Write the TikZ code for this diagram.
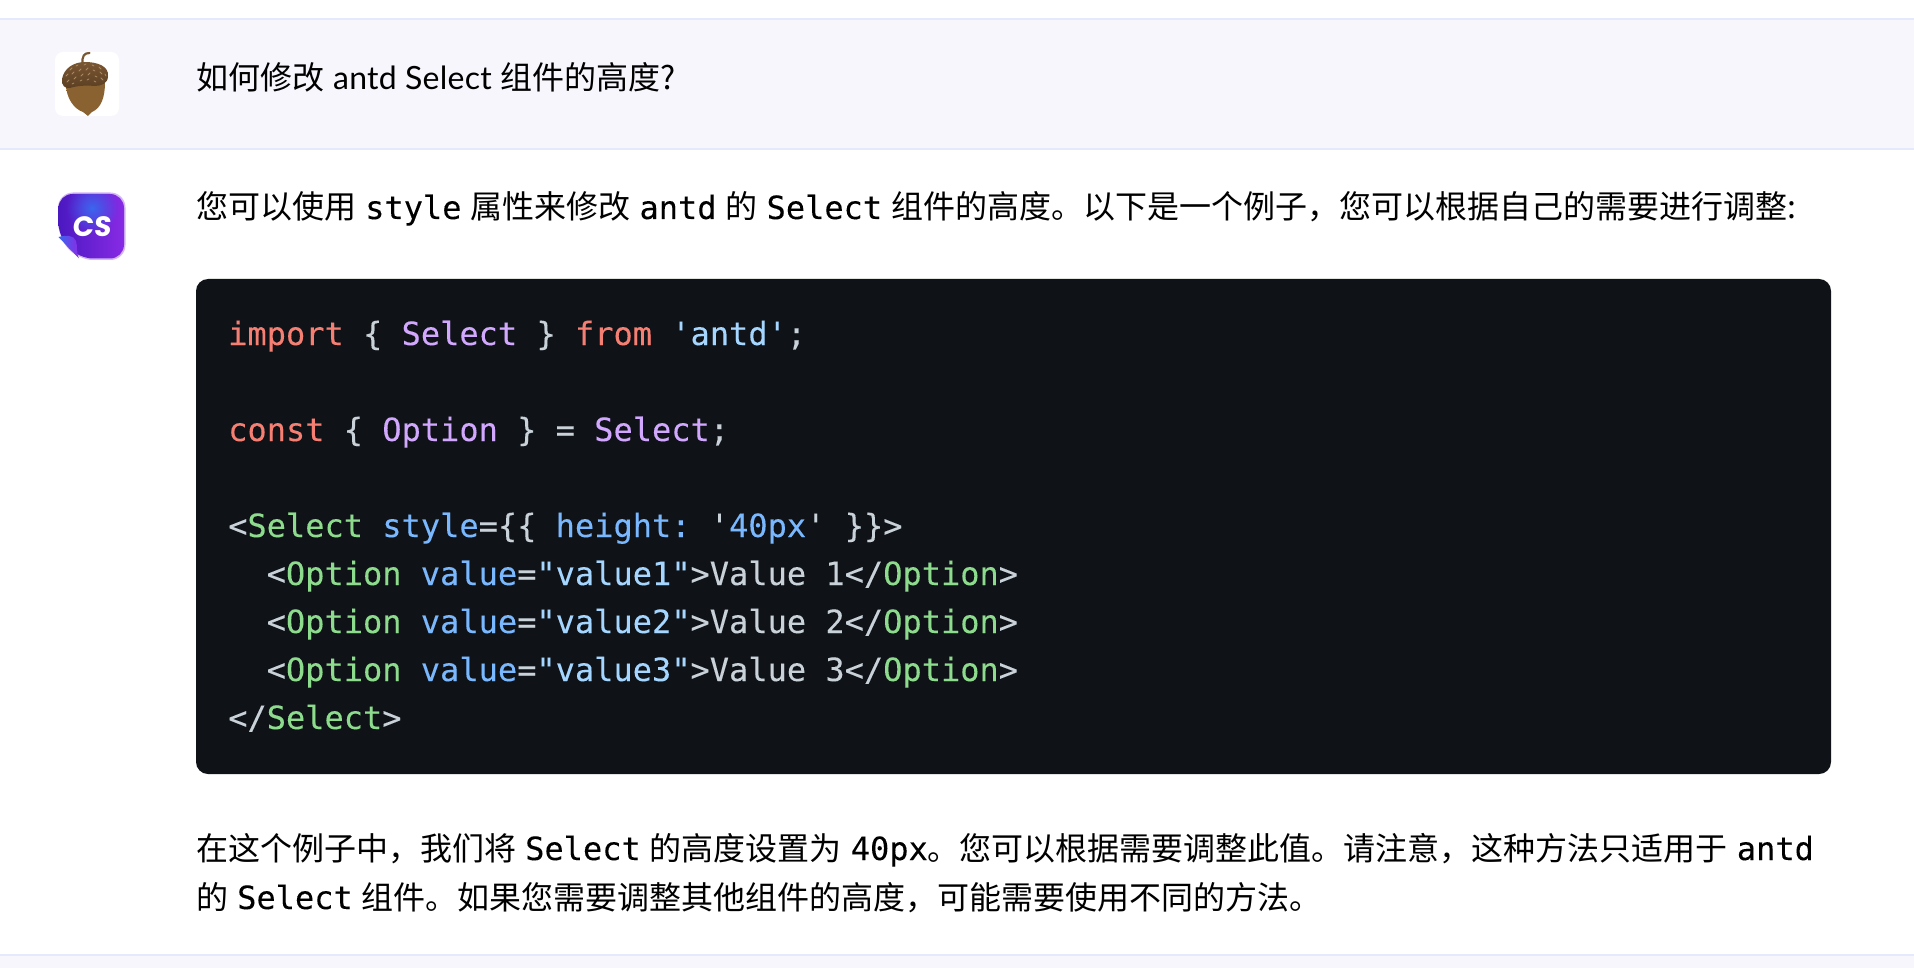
\documentclass[tikz,border=0pt]{standalone}
\usepackage{fontspec}
\usetikzlibrary{positioning,fadings}
\setmainfont{Noto Sans CJK SC}
\setmonofont[FakeBold=0.12]{DejaVu Sans Mono}
\newfontfamily\latinfont[LetterSpace=0.7]{Lato}
\newfontfamily\csfont[FakeSlant=0.08]{Poppins}
\definecolor{bandfill}{HTML}{F6F6FC}
\definecolor{bandline}{HTML}{E4E9FB}
\definecolor{codefill}{HTML}{0F1217}
\definecolor{codetext}{HTML}{C9D1D9}
\definecolor{kwcol}{HTML}{F47F72}
\definecolor{clscol}{HTML}{D2A8FF}
\definecolor{strcol}{HTML}{A5D6FF}
\definecolor{tagcol}{HTML}{8DDB8C}
\definecolor{attcol}{HTML}{79B8FF}
\definecolor{capdark}{HTML}{5A3D22}
\definecolor{capmid}{HTML}{7A5733}
\definecolor{capscale}{HTML}{A98A62}
\definecolor{nutdark}{HTML}{8A6232}
\definecolor{nutmid}{HTML}{CFA873}
\definecolor{csblue}{HTML}{3B66EE}
\definecolor{csindigo}{HTML}{4A18C0}
\definecolor{cspurple}{HTML}{8A2BE6}
\definecolor{csglow}{HTML}{D3B6F7}
\tikzfading[name=csfade,inner color=transparent!0,outer color=transparent!100]
\newcommand{\kw}[1]{\textcolor{kwcol}{#1}}
\newcommand{\cls}[1]{\textcolor{clscol}{#1}}
\newcommand{\str}[1]{\textcolor{strcol}{#1}}
\newcommand{\tg}[1]{\textcolor{tagcol}{#1}}
\newcommand{\att}[1]{\textcolor{attcol}{#1}}
\newcommand{\mn}[1]{\hspace{9pt}{\ttfamily #1}\hspace{9pt}}
\begin{document}
\begin{tikzpicture}[x=1pt,y=-1pt]\tikzstyle{every node}=[inner sep=0,anchor=base west,font=\fontsize{32}{48}\selectfont]
\tikzstyle{codeline}=[text=codetext,font=\fontsize{32}{48}\selectfont\ttfamily]
\useasboundingbox (0,0) rectangle (1914,968);
\fill[white] (0,0) rectangle (1914,968);
% bands
\fill[bandfill] (0,18) rectangle (1914,150);
\fill[bandfill] (0,955) rectangle (1914,968);
\draw[bandline,line width=2pt] (0,19) -- (1914,19)
     (0,149) -- (1914,149)
     (0,955) -- (1914,955);
% acorn
\fill[white,rounded corners=8pt] (55,52) rectangle (119,116);
\draw[capmid,line width=2.2pt,line cap=round] (89.5,53) .. controls (84,53) and (82,56) .. (82.5,64);
\shade[left color=nutdark,middle color=nutmid,right color=nutdark,shading angle=0]
  (66,84) .. controls (66,98) and (74,109) .. (83,112) -- (88,116) -- (92,112) .. controls (101,108) and (105,98) .. (105,82) -- cycle;
\shade[top color=capmid,bottom color=capdark]
  (62,79) .. controls (64,68) and (74,62) .. (85,62) .. controls (97,62) and (109,66) .. (108,76)
  .. controls (108,84) and (101,86) .. (94,86) .. controls (86,85) and (76,86) .. (70,88)
  .. controls (65,89) and (61,85) .. (62,79) -- cycle;
\draw[capscale,line width=.8pt,line cap=round]
  (70,70) -- (72,68) (76,66) -- (78,65) (84,65) -- (86,64) (92,65) -- (94,66) (99,67) -- (101,69)
  (66,76) -- (68,74) (72,74) -- (74,72) (79,71) -- (81,69) (86,70) -- (88,68) (93,70) -- (95,71) (100,72) -- (102,74) (105,74) -- (106,76)
  (67,82) -- (69,80) (74,79) -- (76,77) (81,76) -- (83,74) (88,75) -- (90,73) (95,76) -- (97,77) (101,78) -- (103,80)
  (72,84) -- (74,83) (80,81) -- (82,80) (87,80) -- (89,79) (94,81) -- (96,82);
% cs icon
\fill[csglow,rounded corners=15pt] (58,192.5) -- (125.5,192.5) -- (125.5,260) -- (78,260) -- (58,237) -- cycle;
\begin{scope}
\clip[rounded corners=14pt] (58.5,194) -- (124,194) -- (124,258.5) -- (79,258.5) -- (58.5,237) -- cycle;
\shade[left color=csindigo,right color=cspurple] (58,192) rectangle (126,260);
\fill[csblue,path fading=csfade] (92,208) circle (26);
\end{scope}
\shade[left color=csblue,right color=cspurple] (58.5,237) .. controls (66,235) and (74,235) .. (76,241) .. controls (78,247) and (76,253) .. (79,258.5) -- cycle;
\node[font=\fontsize{28}{28}\selectfont\bfseries\csfont,text=white] at (72,237) (csmark) {CS};
% question
\node at (196,90) (question) {如何修改\hspace{9pt}{\latinfont antd Select}\hspace{9pt}组件的高度?};
% answer
\node at (196,219) (answer) {您可以使用\mn{style}属性来修改\mn{antd}的\mn{Select}组件的高度。以下是一个例子，您可以根据自己的需要进行调整:};
% code
\fill[codefill,rounded corners=12pt] (196,279) rectangle (1831,774);
\node[codeline] at (228,345) (lineone) {\kw{import} \{ \cls{Select} \} \kw{from} \str{'antd'};};
\node[codeline] at (228,441) (linetwo) {\kw{const} \{ \cls{Option} \} = \cls{Select};};
\node[codeline] at (228,537) (linethree) {<\tg{Select} \att{style}=\{\{ \att{height:} '\att{40px}' \}\}>};
\node[codeline] at (266.5,585) (optone) {<\tg{Option} \att{value}=\str{"value1"}>Value 1</\tg{Option}>};
\node[codeline] at (266.5,633) (opttwo) {<\tg{Option} \att{value}=\str{"value2"}>Value 2</\tg{Option}>};
\node[codeline] at (266.5,681) (optthree) {<\tg{Option} \att{value}=\str{"value3"}>Value 3</\tg{Option}>};
\node[codeline] at (228,729) (lineend) {</\tg{Select}>};
% closing text
\node at (196,860) (closeone) {在这个例子中，我们将\mn{Select}的高度设置为\hspace{9pt}{\ttfamily 40px}。您可以根据需要调整此值。请注意，这种方法只适用于\mn{antd}};
\node at (196,909) (closetwo) {的\mn{Select}组件。如果您需要调整其他组件的高度，可能需要使用不同的方法。};
\end{tikzpicture}
\end{document}
